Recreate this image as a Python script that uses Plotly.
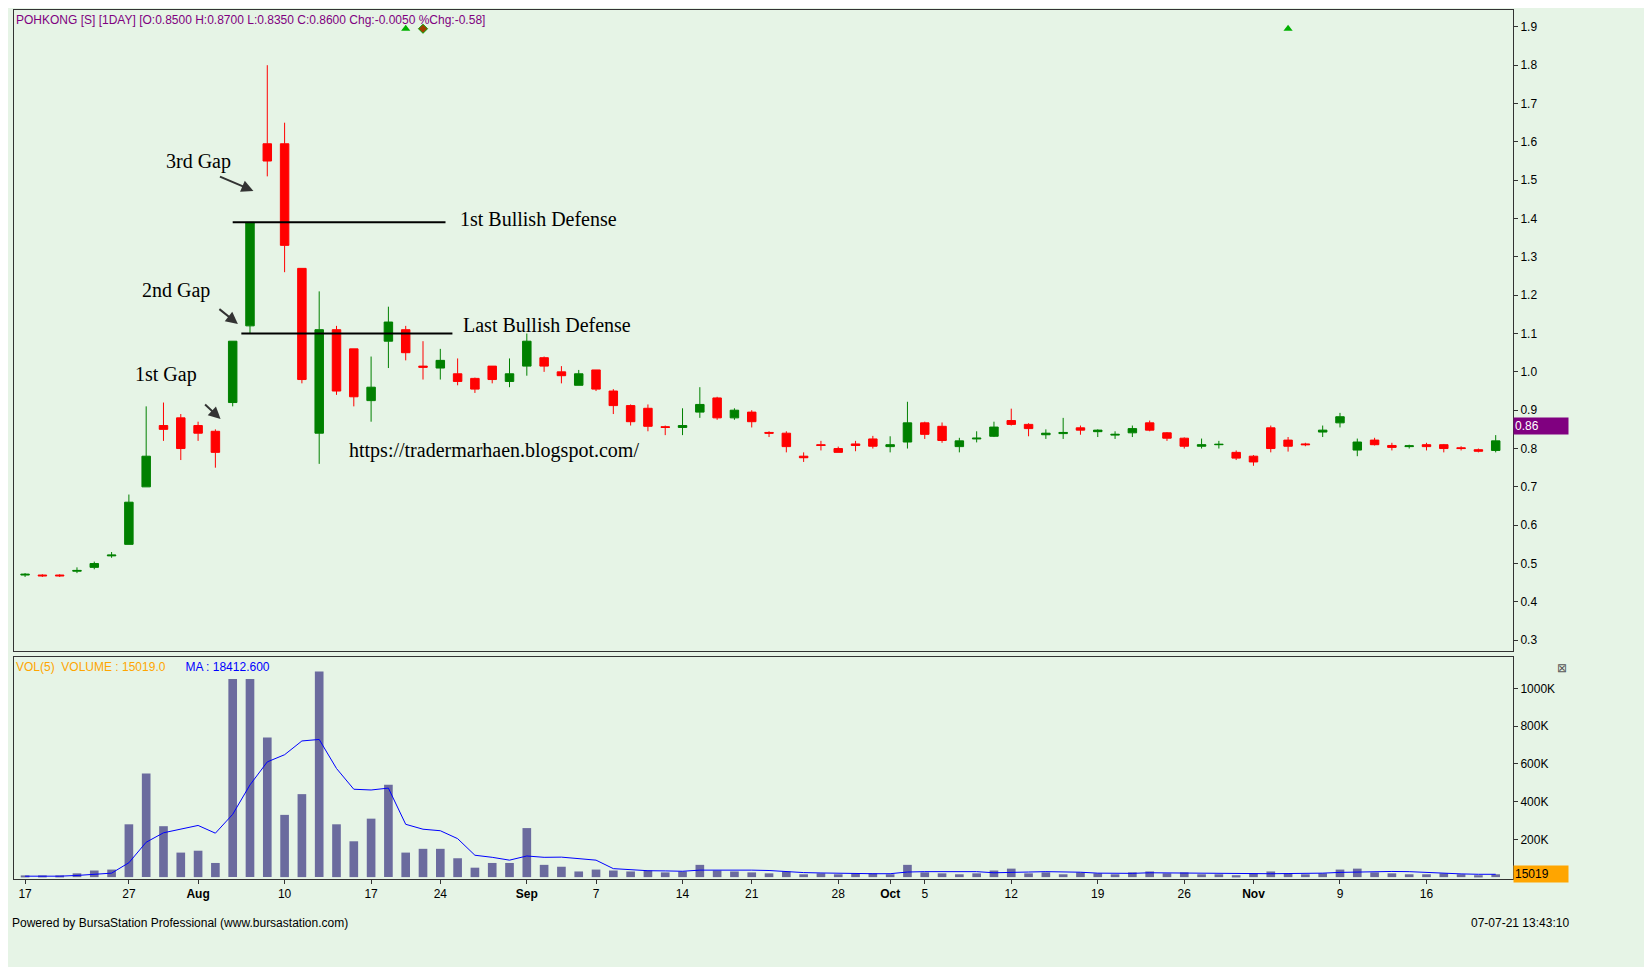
import plotly.graph_objects as go
import pandas as pd

# trading days (Bursa holidays removed)
holidays = ["2020-07-31", "2020-08-20", "2020-08-31", "2020-09-16", "2020-10-29"]
days = [d for d in pd.bdate_range("2020-07-17", "2020-11-20").strftime("%Y-%m-%d") if d not in holidays]

opens = [0.47, 0.47, 0.47, 0.48, 0.49, 0.52, 0.55, 0.70, 0.86, 0.88, 0.86, 0.845, 0.92, 1.12, 1.595, 1.595,
         1.27, 0.84, 1.11, 1.06, 0.925, 1.08, 1.11, 1.015, 1.01, 0.995, 0.983, 1.015, 0.975, 1.015, 1.037, 1.0,
         0.965, 1.005, 0.95, 0.912, 0.905, 0.857, 0.855, 0.895, 0.932, 0.88, 0.895, 0.842, 0.84, 0.78, 0.81,
         0.80, 0.812, 0.825, 0.805, 0.817, 0.867, 0.858, 0.805, 0.825, 0.832, 0.873, 0.863, 0.836, 0.839,
         0.854, 0.844, 0.835, 0.841, 0.867, 0.841, 0.827, 0.806, 0.81, 0.79, 0.78, 0.854, 0.822, 0.812,
         0.843, 0.867, 0.796, 0.822, 0.808, 0.805, 0.81, 0.81, 0.802, 0.797, 0.795]
highs = [0.475, 0.472, 0.472, 0.49, 0.505, 0.53, 0.68, 0.91, 0.92, 0.89, 0.87, 0.85, 1.08, 1.39, 1.80, 1.65,
         1.27, 1.21, 1.12, 1.06, 1.04, 1.17, 1.12, 1.08, 1.06, 1.035, 0.985, 1.015, 1.035, 1.10, 1.04, 1.015,
         1.005, 1.005, 0.955, 0.915, 0.915, 0.86, 0.905, 0.96, 0.935, 0.905, 0.90, 0.845, 0.845, 0.79, 0.82,
         0.805, 0.82, 0.833, 0.832, 0.922, 0.87, 0.868, 0.828, 0.845, 0.87, 0.904, 0.866, 0.85, 0.88, 0.86,
         0.85, 0.845, 0.86, 0.873, 0.843, 0.829, 0.826, 0.82, 0.795, 0.783, 0.86, 0.83, 0.815, 0.86, 0.893,
         0.826, 0.828, 0.815, 0.81, 0.815, 0.812, 0.806, 0.80, 0.835]
lows = [0.465, 0.465, 0.465, 0.475, 0.485, 0.515, 0.55, 0.70, 0.82, 0.77, 0.82, 0.75, 0.91, 1.10, 1.51, 1.26,
        0.97, 0.76, 0.94, 0.91, 0.87, 1.01, 1.03, 0.98, 0.98, 0.965, 0.945, 0.97, 0.96, 0.99, 1.0, 0.97,
        0.965, 0.95, 0.89, 0.86, 0.845, 0.835, 0.835, 0.88, 0.875, 0.875, 0.855, 0.83, 0.79, 0.765, 0.795,
        0.79, 0.793, 0.80, 0.79, 0.80, 0.825, 0.815, 0.79, 0.816, 0.83, 0.86, 0.832, 0.825, 0.825, 0.836,
        0.83, 0.825, 0.83, 0.845, 0.82, 0.80, 0.80, 0.80, 0.77, 0.755, 0.79, 0.792, 0.806, 0.83, 0.855,
        0.78, 0.808, 0.795, 0.80, 0.795, 0.79, 0.795, 0.79, 0.79]
closes = [0.472, 0.468, 0.468, 0.482, 0.50, 0.522, 0.66, 0.78, 0.85, 0.80, 0.84, 0.79, 1.08, 1.39, 1.55, 1.33,
          0.98, 1.11, 0.95, 0.935, 0.96, 1.13, 1.05, 1.012, 1.03, 0.975, 0.955, 0.98, 0.995, 1.08, 1.015, 0.99,
          0.995, 0.955, 0.912, 0.87, 0.858, 0.855, 0.86, 0.915, 0.88, 0.90, 0.87, 0.84, 0.805, 0.776, 0.808,
          0.79, 0.808, 0.806, 0.81, 0.867, 0.837, 0.821, 0.82, 0.827, 0.856, 0.863, 0.852, 0.84, 0.842, 0.848,
          0.848, 0.837, 0.852, 0.848, 0.827, 0.806, 0.81, 0.811, 0.775, 0.765, 0.80, 0.806, 0.81, 0.848, 0.883,
          0.817, 0.81, 0.803, 0.807, 0.805, 0.80, 0.80, 0.793, 0.82]
volumes = [5000, 4000, 6000, 20000, 35000, 40000, 280000, 550000, 270000, 130000, 140000, 75000, 1050000,
           1050000, 740000, 330000, 440000, 1090000, 280000, 190000, 310000, 490000, 130000, 150000, 150000,
           100000, 50000, 75000, 75000, 260000, 65000, 55000, 30000, 40000, 35000, 30000, 35000, 25000, 30000,
           65000, 35000, 30000, 25000, 20000, 30000, 15000, 20000, 15000, 20000, 20000, 15000, 65000, 25000,
           20000, 15000, 20000, 35000, 45000, 20000, 25000, 15000, 25000, 20000, 15000, 25000, 30000, 20000,
           25000, 15000, 15000, 10000, 20000, 30000, 20000, 15000, 20000, 40000, 45000, 25000, 20000, 15000,
           15000, 20000, 15000, 10000, 15019]
ma5 = pd.Series(volumes).rolling(5, min_periods=1).mean()

tick_days = ["2020-07-17", "2020-07-27", "2020-08-03", "2020-08-10", "2020-08-17", "2020-08-24",
             "2020-09-01", "2020-09-07", "2020-09-14", "2020-09-21", "2020-09-28", "2020-10-01",
             "2020-10-05", "2020-10-12", "2020-10-19", "2020-10-26", "2020-11-02", "2020-11-09", "2020-11-16"]
tick_text = ["17", "27", "<b>Aug</b>", "10", "17", "24", "<b>Sep</b>", "7", "14", "21", "28", "<b>Oct</b>",
             "5", "12", "19", "26", "<b>Nov</b>", "9", "16"]
vol_ticks = [200000, 400000, 600000, 800000, 1000000]
vol_text = ["200K", "400K", "600K", "800K", "1000K"]

bg = "#E6F4E6"
serif = dict(family="Liberation Serif", size=20, color="black")

fig = go.Figure()
fig.add_trace(go.Candlestick(
    x=days, open=opens, high=highs, low=lows, close=closes,
    increasing=dict(line=dict(color="#008000", width=1), fillcolor="#008000"),
    decreasing=dict(line=dict(color="#FF0000", width=1), fillcolor="#FF0000"),
    whiskerwidth=0, xaxis="x", yaxis="y", showlegend=False))
fig.add_trace(go.Scatter(x=[days[22], days[73]], y=[1.895, 1.895], mode="markers",
                         marker=dict(symbol="triangle-up", size=8, color="#00B000"),
                         xaxis="x", yaxis="y", showlegend=False))
fig.add_trace(go.Scatter(x=[days[23]], y=[1.895], mode="markers",
                         marker=dict(symbol="diamond", size=7, color="#A04000", line=dict(color="#00A000", width=1)),
                         xaxis="x", yaxis="y", showlegend=False))
fig.add_trace(go.Bar(x=days, y=volumes, marker=dict(color="#6B6B9E", line_width=0), width=0.5,
                     xaxis="x2", yaxis="y2", showlegend=False))
fig.add_trace(go.Scatter(x=days, y=ma5, mode="lines", line=dict(color="#0000FF", width=1),
                         xaxis="x2", yaxis="y2", showlegend=False))

xr = [-0.64, 86.0]
fig.update_layout(
    width=1652, height=967, paper_bgcolor=bg, plot_bgcolor=bg,
    margin=dict(l=6, r=147, t=2, b=96),
    bargap=0.5,
    xaxis=dict(domain=[0, 1], anchor="y", type="category", range=xr, rangeslider=dict(visible=False),
               showgrid=False, showticklabels=False, ticks="", showline=True, mirror=True,
               linecolor="#333333", tickvals=tick_days),
    yaxis=dict(domain=[0.262, 1], range=[0.271, 1.944], side="right", showgrid=False,
               dtick=0.1, tickformat=".1f", ticks="outside", ticklen=4, tickcolor="#333333",
               showline=True, mirror=True, linecolor="#333333",
               tickfont=dict(family="Liberation Sans", size=12, color="black")),
    xaxis2=dict(domain=[0, 1], anchor="y2", type="category", range=xr, showgrid=False,
                tickvals=tick_days, ticktext=tick_text, ticks="outside", ticklen=4, tickcolor="#333333",
                showline=True, mirror=True, linecolor="#333333",
                tickfont=dict(family="Liberation Sans", size=12, color="black")),
    yaxis2=dict(domain=[0, 0.255], range=[-10000, 1165000], side="right", showgrid=False,
                tickvals=vol_ticks, ticktext=vol_text, ticks="outside", ticklen=4, tickcolor="#333333",
                showline=True, mirror=True, linecolor="#333333", zeroline=False,
                tickfont=dict(family="Liberation Sans", size=12, color="black")),
)

fig.add_shape(type="line", xref="x", yref="y", x0=12.0, x1=24.3, y0=1.39, y1=1.39,
              line=dict(color="black", width=2))
fig.add_shape(type="line", xref="x", yref="y", x0=12.5, x1=24.7, y0=1.10, y1=1.10,
              line=dict(color="black", width=2))

ann = [
    dict(x=25.0, y=1.40, text="1st Bullish Defense", xanchor="left", showarrow=False, font=serif),
    dict(x=25.2, y=1.122, text="Last Bullish Defense", xanchor="left", showarrow=False, font=serif),
    dict(x=10.0, y=1.548, text="3rd Gap", showarrow=False, font=serif),
    dict(x=8.7, y=1.211, text="2nd Gap", showarrow=False, font=serif),
    dict(x=8.15, y=0.992, text="1st Gap", showarrow=False, font=serif),
    dict(x=18.6, y=0.796, text="https://tradermarhaen.blogspot.com/", xanchor="left", showarrow=False, font=serif),
    dict(x=13.2, y=1.472, ax=-35, ay=-15, text="", showarrow=True, arrowhead=2, arrowsize=1.2,
         arrowwidth=2, arrowcolor="#333333"),
    dict(x=12.3, y=1.125, ax=-20, ay=-16, text="", showarrow=True, arrowhead=2, arrowsize=1.2,
         arrowwidth=2, arrowcolor="#333333"),
    dict(x=11.3, y=0.877, ax=-17, ay=-16, text="", showarrow=True, arrowhead=2, arrowsize=1.2,
         arrowwidth=2, arrowcolor="#333333"),
]
for a in ann:
    a.update(xref="x", yref="y")
    fig.add_annotation(**a)

fig.add_annotation(xref="paper", yref="paper", x=0.0, y=1.0, yshift=-1, xanchor="left", yanchor="top",
                   showarrow=False, font=dict(family="Liberation Sans", size=12, color="#800080"),
                   text="POHKONG [S] [1DAY] [O:0.8500 H:0.8700 L:0.8350 C:0.8600 Chg:-0.0050 %Chg:-0.58]")
fig.add_annotation(xref="paper", yref="paper", x=0.0, y=0.255, yshift=-1, xanchor="left", yanchor="top",
                   showarrow=False, font=dict(family="Liberation Sans", size=12),
                   text="<span style='color:#FFA500'>VOL(5)  VOLUME : 15019.0</span>"
                        "      <span style='color:#0000FF'>MA : 18412.600</span>")
fig.add_annotation(xref="paper", yref="y", x=1.0, y=0.86, xanchor="left", showarrow=False,
                   text="0.86 ", bgcolor="#800080", font=dict(family="Liberation Sans", size=12, color="white"),
                   align="left", width=52)
fig.add_annotation(xref="paper", yref="y2", x=1.0, y=volumes[-1], xanchor="left", showarrow=False,
                   text="15019", bgcolor="#FFA500", font=dict(family="Liberation Sans", size=12, color="black"),
                   align="left", width=52)
fig.add_annotation(xref="paper", yref="paper", x=1.0, xshift=56, y=0.255, xanchor="right", yanchor="top",
                   showarrow=False, text="⊠", font=dict(size=12, color="#555555"))
fig.add_annotation(xref="paper", yref="paper", x=0.0, xshift=-4, y=-0.04, xanchor="left", yanchor="top",
                   showarrow=False, text="Powered by BursaStation Professional (www.bursastation.com)",
                   font=dict(family="Liberation Sans", size=12, color="black"))
fig.add_annotation(xref="paper", yref="paper", x=1.0, xshift=58, y=-0.04, xanchor="right", yanchor="top",
                   showarrow=False, text="07-07-21 13:43:10",
                   font=dict(family="Liberation Sans", size=12, color="black"))

fig.write_html("out.html")
